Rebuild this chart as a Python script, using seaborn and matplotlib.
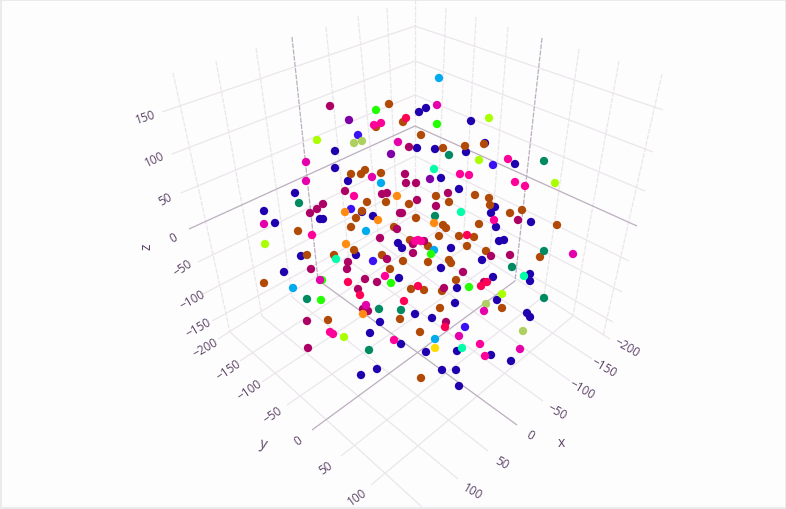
import pandas as pd
import matplotlib.pyplot as plt
import seaborn as sns
from matplotlib.patches import Rectangle

navy = [(335,152),(335,169),(426,109),(419,113),(471,122),(417,149),(435,150),(485,144),(466,153),(515,165),
        (348,182),(295,194),(264,212),(275,224),(320,220),(323,220),(362,213),(373,217),(398,244),(356,256),
        (301,257),(284,273),(399,279),(380,323),(370,334),(441,179),(459,190),(495,208),(491,214),(531,223),
        (496,228),(499,242),(504,241),(402,249),(451,249),(482,261),(441,269),(493,278),(530,275),(530,282),
        (457,289),(497,301),(455,304),(415,315),(432,319),(527,314),(530,318),(377,370),(361,376),(401,345),
        (426,353),(457,352),(491,356),(511,362),(442,371),(456,371),(459,387)]
brown = [(389,105),(376,128),(365,171),(403,123),(421,136),(443,149),(465,147),(484,145),(351,175),(361,175),
         (381,174),(386,203),(367,203),(362,212),(356,219),(351,228),(298,232),(394,228),(354,251),(334,256),
         (307,256),(382,256),(390,270),(264,284),(328,321),(400,320),(436,197),(475,196),(489,199),(490,206),
         (409,205),(449,203),(510,214),(522,211),(557,226),(416,219),(479,225),(443,226),(446,229),(439,237),
         (459,237),(474,238),(410,241),(428,247),(467,247),(486,252),(540,258),(449,261),(451,264),(403,262),
         (428,263),(456,281),(411,290),(424,291),(442,292),(502,309),(440,309),(420,333),(421,379)]
crimson = [(330,107),(409,148),(345,192),(382,195),(387,194),(323,205),(317,210),(310,214),(380,239),(397,230),
           (400,214),(348,263),(347,270),(387,260),(311,270),(365,280),(377,283),(358,290),(368,312),(363,310),
           (307,322),(405,175),(406,184),(416,184),(448,194),(417,201),(436,207),(402,214),(518,221),(424,242),
           (413,245),(413,254),(491,257),(510,256),(463,273),(444,289),(484,283),(446,323),(308,349)]
hotpink = [(374,126),(381,124),(508,160),(354,197),(312,236),(385,277),(330,333),(333,335),(460,175),(469,176),
           (515,183),(525,187),(494,221),(415,242),(418,241),(421,242),(394,341),(480,345),(485,357)]
magenta = [(398,143),(306,163),(437,106),(306,182),(372,178),(264,225),(320,281),(366,306),(573,255),(484,312),
           (459,337),(520,350)]
red = [(406,119),(348,283),(360,296),(467,236),(418,287),(481,287),(487,283),(404,302),(445,328)]
green = [(376,111),(437,125),(322,281),(391,284),(321,301),(431,255),(469,288)]
lime = [(317,141),(489,119),(479,161),(265,245),(344,338),(555,184),(502,295)]
olive = [(362,142),(354,144),(486,305),(523,332)]
teal = [(449,156),(544,162),(299,204),(307,300),(379,310),(401,311),(369,351),(435,217),(544,252),(512,268),
        (544,299)]
aqua = [(434,170),(336,260),(461,213),(524,277),(462,349)]
sky = [(439,79),(381,184),(366,232),(293,289),(434,251),(435,340)]
orange = [(397,197),(345,213),(378,221),(346,245),(363,315),(434,224)]
purple = [(349,121),(391,155),(430,180)]
blue = [(358,136),(493,166),(351,210),(373,262),(465,328)]
yellow = [(435,349)]

groups = {"navy": navy, "brown": brown, "crimson": crimson, "purple": purple, "blue": blue, "teal": teal,
          "sky": sky, "orange": orange, "olive": olive, "lime": lime, "green": green, "aqua": aqua,
          "yellow": yellow, "magenta": magenta, "hotpink": hotpink, "red": red}
colors = {"navy": "#2000ae", "brown": "#b04a06", "crimson": "#ad0064", "purple": "#8000a8", "blue": "#3a10f5",
          "teal": "#008a62", "sky": "#00aaee", "orange": "#ff8c10", "olive": "#aed060", "lime": "#aaff00",
          "green": "#22ff00", "aqua": "#00ffa8", "yellow": "#ffdd00", "magenta": "#e400aa",
          "hotpink": "#ff0098", "red": "#ff0055"}

# left and right wall: z lines and vertical lines
z_left = [(162,113),(172,155),(181,194),(189,230),(198,263),(203,295),(212,322)]
z_back = [(415,27),(415,62),(415,96),(415,127),(415,157),(415,185),(415,211)]
z_right = [(663,111),(653,153),(645,192),(637,227),(629,262),(622,293),(613,323)]
wall_left_top = [(173,74),(216,62),(256,49),(292,38),(326,28),(358,17),(387,9),(415,0)]
wall_left_bot = [(230,333),(262,317),(292,298),(318,281),(349,262),(379,244),(398,232),(415,215)]
wall_right_top = [(446,9),(476,18),(508,28),(542,39),(579,50),(619,62),(662,75)]
wall_right_bot = [(437,232),(463,250),(489,267),(515,282),(544,297),(573,317),(603,337)]
# floor lines
y_front = [(218,340),(240,362),(262,383),(287,406),(312,431),(341,457),(371,486)]
y_back = [(415,215),(437,232),(463,250),(489,267),(515,282),(544,297),(573,317)]
x_front = [(610,340),(592,360),(570,382),(543,402),(517,426),(488,452),(458,480),(422,508)]
x_back = [(415,215),(398,232),(379,244),(349,262),(318,281),(292,298),(262,317),(230,333)]

z_ticks = ["150","100","50","0","\u221250","\u2212100","\u2212150","\u2212200"]
z_pos = [(145,118),(155,160),(165,200),(174,238),(183,268),(192,300),(198,328),(205,348)]
z_rot = [18,25,30,30,35,30,30,30]
y_ticks = ["\u2212150","\u2212100","\u221250","0","50","100"]
y_pos = [(228,370),(249,390),(273,415),(298,441),(326,468),(357,497)]
x_ticks = ["\u2212200","\u2212150","\u2212100","\u221250","0","50","100"]
x_pos = [(627,348),(604,368),(582,390),(557,412),(530,436),(502,463),(472,492)]

GRID = "#ebe6eb"
ZERO = "#bcaebf"
TEXT = "#5c4266"
BG = "#fdfdfd"

sns.set_style("white")
plt.rcParams['font.family'] = ['Open Sans', 'DejaVu Sans']

rows = []
for name, pts in groups.items():
    for px, py in pts:
        rows.append({"px": px, "py": py, "group": name})
df = pd.DataFrame(rows)

fig = plt.figure(figsize=(7.86, 5.10), dpi=100, facecolor=BG)
ax = fig.add_axes([0, 0, 1, 1])
ax.set_facecolor(BG)
ax.axis("off")


def seg(a, b, zero=False, dashed=False):
    ls = (0, (4, 1)) if dashed else "-"
    ax.plot([a[0], b[0]], [a[1], b[1]], color=ZERO if zero else GRID, lw=0.9, ls=ls,
            zorder=2 if zero else 1, solid_capstyle="butt")


for i in range(len(z_left)):
    seg(z_left[i], z_back[i], i == 3)
    seg(z_back[i], z_right[i], i == 3)
for i in range(len(wall_left_top)):
    seg(wall_left_top[i], wall_left_bot[i], i == 3, True)
for i in range(len(wall_right_top)):
    seg(wall_right_top[i], wall_right_bot[i], i == 3, True)
for i in range(len(y_front)):
    seg(y_front[i], y_back[i], i == 4)
for i in range(len(x_front)):
    seg(x_front[i], x_back[i], i == 4)

sns.scatterplot(data=df, x="px", y="py", hue="group", palette=colors, s=36, linewidth=0,
                legend=False, ax=ax, zorder=3)
ax.set_xlim(0, 786)
ax.set_ylim(510, 0)

# thin grey frame round the plot area
ax.add_patch(Rectangle((0.5, 0.5), 785, 508, fill=False, ec="#e8e8e8", lw=1.2, zorder=5))

for t, p, r in zip(z_ticks, z_pos, z_rot):
    ax.text(p[0], p[1], t, color=TEXT, fontsize=8.5, rotation=r, ha="center", va="center")
for t, p in zip(y_ticks, y_pos):
    ax.text(p[0], p[1], t, color=TEXT, fontsize=8.5, rotation=35, ha="center", va="center")
for t, p in zip(x_ticks, x_pos):
    ax.text(p[0], p[1], t, color=TEXT, fontsize=8.5, rotation=-30, ha="center", va="center")
ax.text(147, 247, "z", color=TEXT, fontsize=10, rotation=90, ha="center", va="center")
ax.text(263, 445, "y", color=TEXT, fontsize=10, rotation=-15, ha="center", va="center")
ax.text(561, 444, "x", color=TEXT, fontsize=10, ha="center", va="center")

fig.savefig("out.png", dpi=100, facecolor=fig.get_facecolor())
